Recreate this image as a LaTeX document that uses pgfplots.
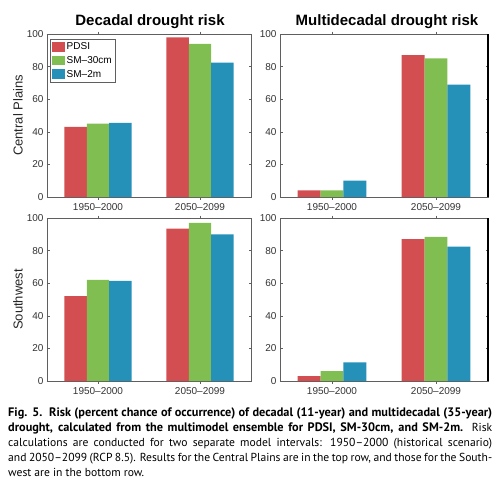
\documentclass[border=0pt]{standalone}
\usepackage{fontspec}
\setmainfont{Liberation Sans}
\newfontfamily\capfont{PT Sans}
\usepackage{pgfplots}
\pgfplotsset{compat=1.18}
\definecolor{cred}{RGB}{211,78,80}
\definecolor{cgreen}{RGB}{129,190,82}
\definecolor{cblue}{RGB}{38,145,184}
\definecolor{axgray}{RGB}{95,95,95}
\pgfplotsset{
 panel/.style={
  scale only axis, height=163pt,
  ymin=0, ymax=100, ytick={0,20,...,100},
  xmin=0.5, xmax=2.5, xtick={1,2}, xticklabels={1950--2000,2050--2099},
  tick align=inside, tick pos=both, major tick length=2.5pt,
  axis line style={axgray, line width=0.6pt},
  every tick/.style={axgray, line width=0.5pt},
  tick label style={font=\fontsize{10}{12}\selectfont, text=black!80},
  /pgf/number format/assume math mode=true,
  ybar, bar width=0.22,
  anchor=south west,
  ylabel style={font=\fontsize{13}{15}\selectfont, text=black!85, at={(axis description cs:-0.142,0.5)}, anchor=center},
  xticklabel style={yshift=-0.5pt},
 },
 rpanel/.style={panel, width=208pt,
  after end axis/.code={\draw[black, line width=1.1pt] (rel axis cs:1,0) -- (rel axis cs:1,1);}},
 lpanel/.style={panel, width=204pt},
}
\begin{document}
\begin{tikzpicture}
\path[use as bounding box] (0,0) rectangle (500pt,-482pt);

% top-left
\begin{axis}[lpanel, at={(47pt,-197pt)}, ylabel={Central Plains},
  legend style={at={(axis description cs:0.0147,0.969)}, anchor=north west, draw=axgray, line width=0.5pt,
     font=\fontsize{10}{12}\selectfont, inner sep=1.5pt, row sep=1.2pt, cells={anchor=west}},
  legend image code/.code={\fill[#1,draw=none] (0pt,-4.5pt) rectangle (13pt,5pt);},
  legend cell align=left]
\addplot[fill=cred, draw=none, bar shift=-0.22] coordinates {(1,43) (2,98)};
\addplot[fill=cgreen, draw=none, bar shift=0] coordinates {(1,45) (2,94)};
\addplot[fill=cblue, draw=none, bar shift=0.22] coordinates {(1,45.5) (2,82.5)};
\legend{PDSI, SM–30cm, SM–2m}
\end{axis}

% top-right
\begin{axis}[rpanel, at={(280pt,-197pt)}]
\addplot[fill=cred, draw=none, bar shift=-0.22] coordinates {(1,4) (2,87)};
\addplot[fill=cgreen, draw=none, bar shift=0] coordinates {(1,4) (2,85)};
\addplot[fill=cblue, draw=none, bar shift=0.22] coordinates {(1,10) (2,69)};
\end{axis}

% bottom-left
\begin{axis}[lpanel, at={(47pt,-381pt)}, ylabel={Southwest}]
\addplot[fill=cred, draw=none, bar shift=-0.22] coordinates {(1,52) (2,93.5)};
\addplot[fill=cgreen, draw=none, bar shift=0] coordinates {(1,62) (2,97)};
\addplot[fill=cblue, draw=none, bar shift=0.22] coordinates {(1,61.5) (2,90)};
\end{axis}

% bottom-right
\begin{axis}[rpanel, at={(280pt,-381pt)}]
\addplot[fill=cred, draw=none, bar shift=-0.22] coordinates {(1,3) (2,87)};
\addplot[fill=cgreen, draw=none, bar shift=0] coordinates {(1,6) (2,88.5)};
\addplot[fill=cblue, draw=none, bar shift=0.22] coordinates {(1,11.5) (2,82.5)};
\end{axis}

\node[font=\bfseries\fontsize{15}{17}\selectfont] at (150pt,-22pt) {Decadal drought risk};
\node[font=\bfseries\fontsize{15}{17}\selectfont] at (387pt,-22pt) {Multidecadal drought risk};

\node[anchor=north west, inner sep=0pt, text width=484pt, align=justify,
      font=\capfont\fontsize{11.6}{14.8}\selectfont] at (8pt,-408pt)
{{\fontsize{12.3}{14.8}\selectfont\bfseries Fig. 5.\ \ Risk (percent chance of occurrence) of decadal (11-year) and multidecadal (35-year)\linebreak drought, calculated from the multimodel ensemble for PDSI, SM-30cm, and SM-2m.} Risk\linebreak calculations are conducted for two separate model intervals: 1950–2000 (historical scenario)\linebreak and 2050–2099 (RCP 8.5). Results for the Central Plains are in the top row, and those for the South-\linebreak west are in the bottom row.};
\end{tikzpicture}
\end{document}
